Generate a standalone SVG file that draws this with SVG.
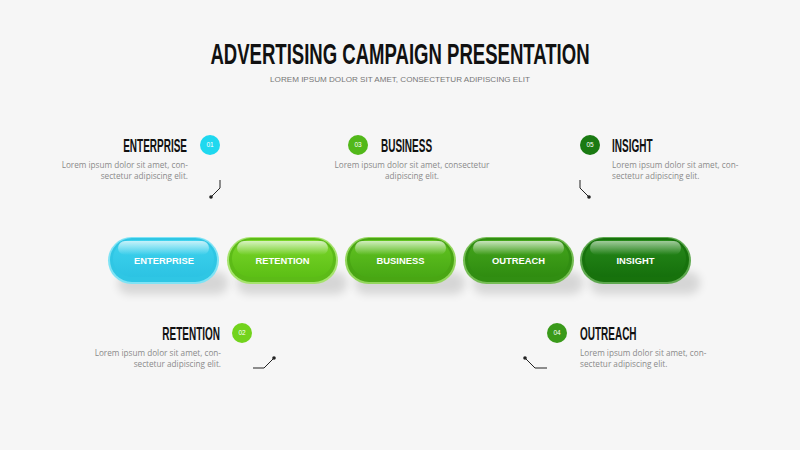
<svg xmlns="http://www.w3.org/2000/svg" width="800" height="450" viewBox="0 0 800 450">
<defs>
<style>
.title{font-family:"Liberation Sans",Arial,sans-serif;font-weight:bold;font-size:29px;fill:#111}
.sub{font-family:"Liberation Sans",Arial,sans-serif;font-size:8.1px;fill:#777}
.head{font-family:"Liberation Sans",Arial,sans-serif;font-weight:bold;font-size:18px;fill:#111}
.body{font-family:"Open Sans","Liberation Sans",sans-serif;font-size:8.2px;fill:#8a8a8a}
.num{font-family:"Liberation Sans",Arial,sans-serif;font-size:6.5px;fill:#fff;text-anchor:middle}
.pt{font-family:"Liberation Sans",Arial,sans-serif;font-weight:bold;font-size:9.4px;fill:#fff;text-anchor:middle}
.conn{fill:none;stroke:#222;stroke-width:1}
.hl{fill:url(#hl)}
</style>
<filter id="sh" x="-30%" y="-60%" width="160%" height="220%"><feGaussianBlur stdDeviation="5"/></filter>
<linearGradient id="hl" x1="0" y1="0" x2="0" y2="1">
<stop offset="0" stop-color="#fff" stop-opacity="0.7"/>
<stop offset="1" stop-color="#fff" stop-opacity="0"/>
</linearGradient>
<linearGradient id="g1" x1="0" y1="0" x2="0" y2="1"><stop offset="0" stop-color="#3fd3ee"/><stop offset="1" stop-color="#2cc3e3"/></linearGradient>
<linearGradient id="g2" x1="0" y1="0" x2="0" y2="1"><stop offset="0" stop-color="#7ad62a"/><stop offset="1" stop-color="#5cbf15"/></linearGradient>
<linearGradient id="g3" x1="0" y1="0" x2="0" y2="1"><stop offset="0" stop-color="#62c421"/><stop offset="1" stop-color="#48a814"/></linearGradient>
<linearGradient id="g4" x1="0" y1="0" x2="0" y2="1"><stop offset="0" stop-color="#44a51c"/><stop offset="1" stop-color="#2f8c10"/></linearGradient>
<linearGradient id="g5" x1="0" y1="0" x2="0" y2="1"><stop offset="0" stop-color="#27891a"/><stop offset="1" stop-color="#15700c"/></linearGradient>
</defs>
<rect width="800" height="450" fill="#f6f6f6"/>
<text class="title" transform="translate(400,64) scale(0.64,1)" text-anchor="middle">ADVERTISING CAMPAIGN PRESENTATION</text>
<text class="sub" x="400" y="82" text-anchor="middle">LOREM IPSUM DOLOR SIT AMET, CONSECTETUR ADIPISCING ELIT</text>

<g id="pill-enterprise">
<rect x="118" y="272" width="110" height="22" rx="11" fill="#000" opacity="0.13" filter="url(#sh)"/>
<rect x="108" y="237" width="111" height="47" rx="23.5" fill="#7fe3f5"/>
<rect x="110" y="238" width="107" height="44" rx="22" fill="#2fc6e4"/>
<rect x="113" y="240" width="101" height="37" rx="18.5" fill="url(#g1)"/>
<rect x="118" y="241" width="91" height="14" rx="7" class="hl"/>
<text class="pt" x="164" y="264">ENTERPRISE</text>
</g>
<g id="pill-retention">
<rect x="237" y="272" width="110" height="22" rx="11" fill="#000" opacity="0.13" filter="url(#sh)"/>
<rect x="227" y="237" width="111" height="47" rx="23.5" fill="#a6e36e"/>
<rect x="229" y="238" width="107" height="44" rx="22" fill="#5cbb17"/>
<rect x="232" y="240" width="101" height="37" rx="18.5" fill="url(#g2)"/>
<rect x="237" y="241" width="91" height="14" rx="7" class="hl"/>
<text class="pt" x="282.5" y="264">RETENTION</text>
</g>
<g id="pill-business">
<rect x="355" y="272" width="110" height="22" rx="11" fill="#000" opacity="0.13" filter="url(#sh)"/>
<rect x="345" y="237" width="111" height="47" rx="23.5" fill="#93d65c"/>
<rect x="347" y="238" width="107" height="44" rx="22" fill="#49a613"/>
<rect x="350" y="240" width="101" height="37" rx="18.5" fill="url(#g3)"/>
<rect x="355" y="241" width="91" height="14" rx="7" class="hl"/>
<text class="pt" x="400.5" y="264">BUSINESS</text>
</g>
<g id="pill-outreach">
<rect x="473" y="272" width="110" height="22" rx="11" fill="#000" opacity="0.13" filter="url(#sh)"/>
<rect x="463" y="237" width="111" height="47" rx="23.5" fill="#76bd55"/>
<rect x="465" y="238" width="107" height="44" rx="22" fill="#318e12"/>
<rect x="468" y="240" width="101" height="37" rx="18.5" fill="url(#g4)"/>
<rect x="473" y="241" width="91" height="14" rx="7" class="hl"/>
<text class="pt" x="518.5" y="264">OUTREACH</text>
</g>
<g id="pill-insight">
<rect x="590" y="272" width="110" height="22" rx="11" fill="#000" opacity="0.13" filter="url(#sh)"/>
<rect x="580" y="237" width="111" height="47" rx="23.5" fill="#5ea84f"/>
<rect x="582" y="238" width="107" height="44" rx="22" fill="#17720c"/>
<rect x="585" y="240" width="101" height="37" rx="18.5" fill="url(#g5)"/>
<rect x="590" y="241" width="91" height="14" rx="7" class="hl" opacity="0.8"/>
<text class="pt" x="635.5" y="264">INSIGHT</text>
</g>

<g id="label-01">
<text class="head" transform="translate(187,152) scale(0.555,1)" text-anchor="end">ENTERPRISE</text>
<circle cx="210" cy="145" r="10" fill="#1fd8ef"/>
<text class="num" x="210" y="147.3">01</text>
<text class="body" x="188" y="168" text-anchor="end">Lorem ipsum dolor sit amet, con-</text>
<text class="body" x="188" y="179" text-anchor="end">sectetur adipiscing elit.</text>
</g>
<g id="label-02">
<text class="head" transform="translate(220,340) scale(0.555,1)" text-anchor="end">RETENTION</text>
<circle cx="242" cy="333" r="10" fill="#72d31c"/>
<text class="num" x="242" y="335.3">02</text>
<text class="body" x="221" y="356" text-anchor="end">Lorem ipsum dolor sit amet, con-</text>
<text class="body" x="221" y="367" text-anchor="end">sectetur adipiscing elit.</text>
</g>
<g id="label-03">
<circle cx="358" cy="145" r="10" fill="#52b81a"/>
<text class="num" x="358" y="147.3">03</text>
<text class="head" transform="translate(381,152) scale(0.555,1)">BUSINESS</text>
<text class="body" x="412" y="168" text-anchor="middle">Lorem ipsum dolor sit amet, consectetur</text>
<text class="body" x="412" y="179" text-anchor="middle">adipiscing elit.</text>
</g>
<g id="label-04">
<circle cx="557" cy="333" r="10" fill="#3a9a1a"/>
<text class="num" x="557" y="335.3">04</text>
<text class="head" transform="translate(580,340) scale(0.555,1)">OUTREACH</text>
<text class="body" x="580" y="356">Lorem ipsum dolor sit amet, con-</text>
<text class="body" x="580" y="367">sectetur adipiscing elit.</text>
</g>
<g id="label-05">
<circle cx="590" cy="145" r="10" fill="#1a7a12"/>
<text class="num" x="590" y="147.3">05</text>
<text class="head" transform="translate(612,152) scale(0.555,1)">INSIGHT</text>
<text class="body" x="612" y="168">Lorem ipsum dolor sit amet, con-</text>
<text class="body" x="612" y="179">sectetur adipiscing elit.</text>
</g>

<g id="connectors">
<polyline class="conn" points="220,180 220,188 211,197"/>
<circle cx="211" cy="197" r="1.8" fill="#222"/>
<polyline class="conn" points="580,180 580,188 589,197"/>
<circle cx="589" cy="197" r="1.8" fill="#222"/>
<polyline class="conn" points="274,358 264,368 253,368"/>
<circle cx="274" cy="358" r="1.8" fill="#222"/>
<polyline class="conn" points="525,358 535,368 547,368"/>
<circle cx="525" cy="358" r="1.8" fill="#222"/>
</g>
</svg>
